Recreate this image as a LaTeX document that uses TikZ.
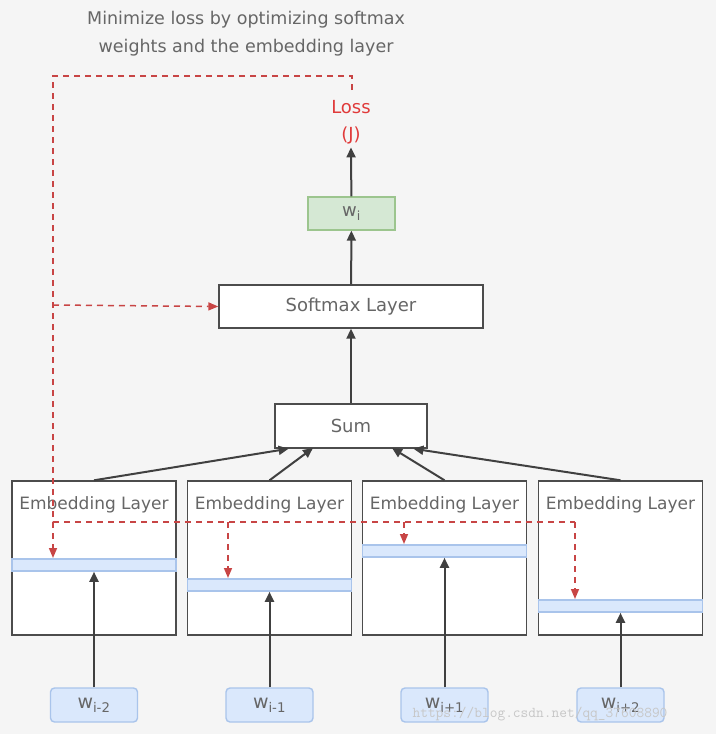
\documentclass[tikz,border=0pt]{standalone}
\usepackage{fontspec}
\setmainfont{DejaVu Sans}
\usetikzlibrary{arrows.meta}
\definecolor{bg}{HTML}{F5F5F5}
\definecolor{txt}{HTML}{666666}
\definecolor{lossred}{HTML}{E03A3A}
\definecolor{dashred}{HTML}{C84545}
\definecolor{bfill}{HTML}{DAE8FC}
\definecolor{bdraw}{HTML}{A9C4EB}
\definecolor{gfill}{HTML}{D5E8D4}
\definecolor{gdraw}{HTML}{9CC58E}
\tikzset{
 box/.style={draw=black!70,fill=white,line width=1.4pt,text=txt,font=\fontsize{18}{20}\selectfont},
 bar/.style={draw=bdraw,fill=bfill,line width=1.6pt},
 inp/.style={draw=bdraw,fill=bfill,rounded corners=4pt,line width=1.4pt,text=txt,font=\fontsize{19}{20}\selectfont,minimum width=87pt,minimum height=34pt},
 arr/.style={-{Triangle[length=10pt,width=9pt]},line width=2pt,draw=black!75},
 darr/.style={line width=1.5pt,draw=dashred,dash pattern=on 6pt off 5pt},
 dtip/.style={darr,-{Triangle[length=10pt,width=8pt]}}
}
\begin{document}
\begin{tikzpicture}[x=1pt,y=-1pt]
\fill[bg] (0,0) rectangle (716,734);
\useasboundingbox (0,0) rectangle (716,734);
\node[text=txt,align=center,font=\fontsize{17.5}{28}\selectfont] (title) at (246,34) {Minimize loss by optimizing softmax\\weights and the embedding layer};
\node[text=lossred,align=center,font=\fontsize{18}{27}\selectfont] (loss) at (351,122) {Loss\\(J)};
\node[box,draw=gdraw,fill=gfill,minimum width=87pt,minimum height=33pt] (wi) at (351.5,213.5) {w\textsubscript{i}};
\node[box,minimum width=264pt,minimum height=43pt] (soft) at (351,306.5) {Softmax Layer};
\node[box,minimum width=152pt,minimum height=44pt] (sum) at (351,426) {Sum};
\foreach \i/\x/\b in {1/94/565,2/269.5/585,3/444.5/551,4/620.5/606}{
  \node[box,minimum width=164pt,minimum height=154pt] (e\i) at (\x,558) {};
  \node[text=txt,font=\fontsize{17}{18}\selectfont] (el\i) at (\x,505) {Embedding Layer};
  \node[bar,minimum width=164pt,minimum height=12pt,inner sep=0pt] (b\i) at (\x,\b) {};
}
\node[inp] (in1) at (94,705) {w\textsubscript{i-2}};
\node[inp] (in2) at (269.5,705) {w\textsubscript{i-1}};
\node[inp] (in3) at (444.5,705) {w\textsubscript{i+1}};
\node[inp] (in4) at (620.5,705) {w\textsubscript{i+2}};
\node[text=black!22,font=\ttfamily\fontsize{15}{16}\selectfont] (wm) at (540,714) {https://blog.csdn.net/qq\_37608890};
\foreach \i in {1,...,4}{\draw[arr] (in\i.north) -- (b\i.south);}
\draw[arr] (e1.north) -- (sum.200);
\draw[arr] (e2.north) -- (313,448);
\draw[arr] (e3.north) -- (392,448);
\draw[arr] (e4.north) -- (sum.340);
\draw[arr] (sum) -- (soft);
\draw[arr] (soft) -- (wi);
\draw[arr] (wi) -- (loss.south);
\coordinate (lt) at (352,90);
\coordinate (c1) at (53,76);
\coordinate (c2) at (53,522);
\draw[darr] (lt) |- (c1) -- (c2) -- (575,522);
\draw[dtip] (c2) -- (53,558);
\draw[dtip] (53,305) -- (soft.west);
\draw[dtip] (228,522) -- (228,578);
\draw[dtip] (404,522) -- (404,544);
\draw[dtip] (575,522) -- (575,599);
\end{tikzpicture}
\end{document}
